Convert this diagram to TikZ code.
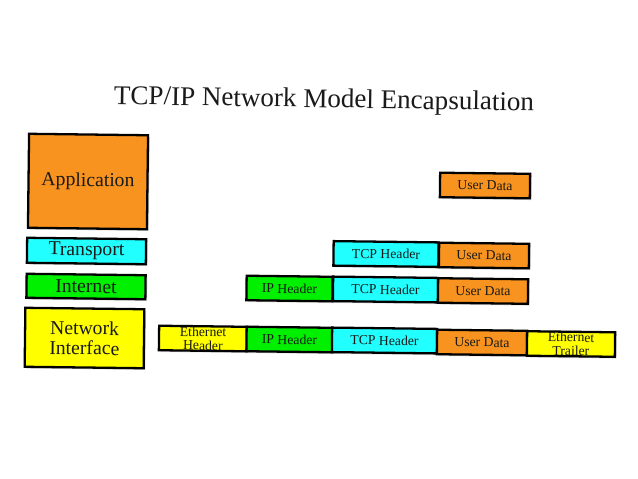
\documentclass[tikz,border=0pt]{standalone}
\usepackage{fontspec}
\setmainfont{Liberation Serif}
\usetikzlibrary{shadows}
\definecolor{dataorange}{HTML}{F7931E}
\definecolor{tcpcyan}{HTML}{22FFFF}
\definecolor{ipgreen}{HTML}{00F000}
\definecolor{ethyellow}{HTML}{FFFF00}
\definecolor{inkdark}{HTML}{1A1A1A}
\tikzset{
    boxbase/.style={draw=black,line width=1.3pt,rotate=-0.7,inner sep=0pt,align=center,text=inkdark,
        drop shadow={shadow xshift=1pt,shadow yshift=-1pt,opacity=0.3}},
    layerbox/.style={boxbase,minimum width=2.38cm,font=\fontsize{11.2}{11.4}\selectfont},
    fieldbox/.style={boxbase,minimum height=0.49cm,font=\fontsize{7.8}{8}\selectfont},
    twoline/.style={font=\fontsize{7.8}{7.8}\selectfont},
    userdata/.style={fieldbox,fill=dataorange,minimum width=1.8cm},
    tcphdr/.style={fieldbox,fill=tcpcyan,minimum width=2.1cm},
    iphdr/.style={fieldbox,fill=ipgreen,minimum width=1.72cm},
    ethbox/.style={fieldbox,twoline,fill=ethyellow,minimum width=1.76cm}
}
\begin{document}
\begin{tikzpicture}[x=0.02cm,y=-0.02cm]
\useasboundingbox (0,0) rectangle (638,478);
\node[text=inkdark,rotate=-0.9,font=\fontsize{15.4}{17}\selectfont] (title) at (324,101) {TCP/IP Network Model Encapsulation};
% layers on the left
\node[layerbox,fill=dataorange,minimum height=1.88cm] (application) at (88,181.5) {Application};
\node[layerbox,fill=tcpcyan,minimum height=0.5cm] (transport) at (86.5,251) {Transport};
\node[layerbox,fill=ipgreen,minimum height=0.48cm] (internet) at (86,286.5) {Internet};
\node[layerbox,fill=ethyellow,minimum height=1.18cm] (network) at (84.5,338) {Network\\Interface};
% application row
\node[userdata] (dataA) at (485,185.5) {User Data};
% transport row
\node[tcphdr] (tcpB) at (386,254) {TCP Header};
\node[userdata] (dataB) at (484,255.5) {User Data};
% internet row
\node[iphdr] (ipC) at (289.5,288.5) {IP Header};
\node[tcphdr] (tcpC) at (385.5,289.5) {TCP Header};
\node[userdata] (dataC) at (483,291) {User Data};
% network row
\node[ethbox] (ethD) at (203,338.5) {Ethernet\\Header};
\node[iphdr] (ipD) at (289.5,339.5) {IP Header};
\node[tcphdr] (tcpD) at (384.5,340.5) {TCP Header};
\node[userdata] (dataD) at (482,342.5) {User Data};
\node[ethbox] (trailerD) at (571,344) {Ethernet\\Trailer};
\end{tikzpicture}
\end{document}
